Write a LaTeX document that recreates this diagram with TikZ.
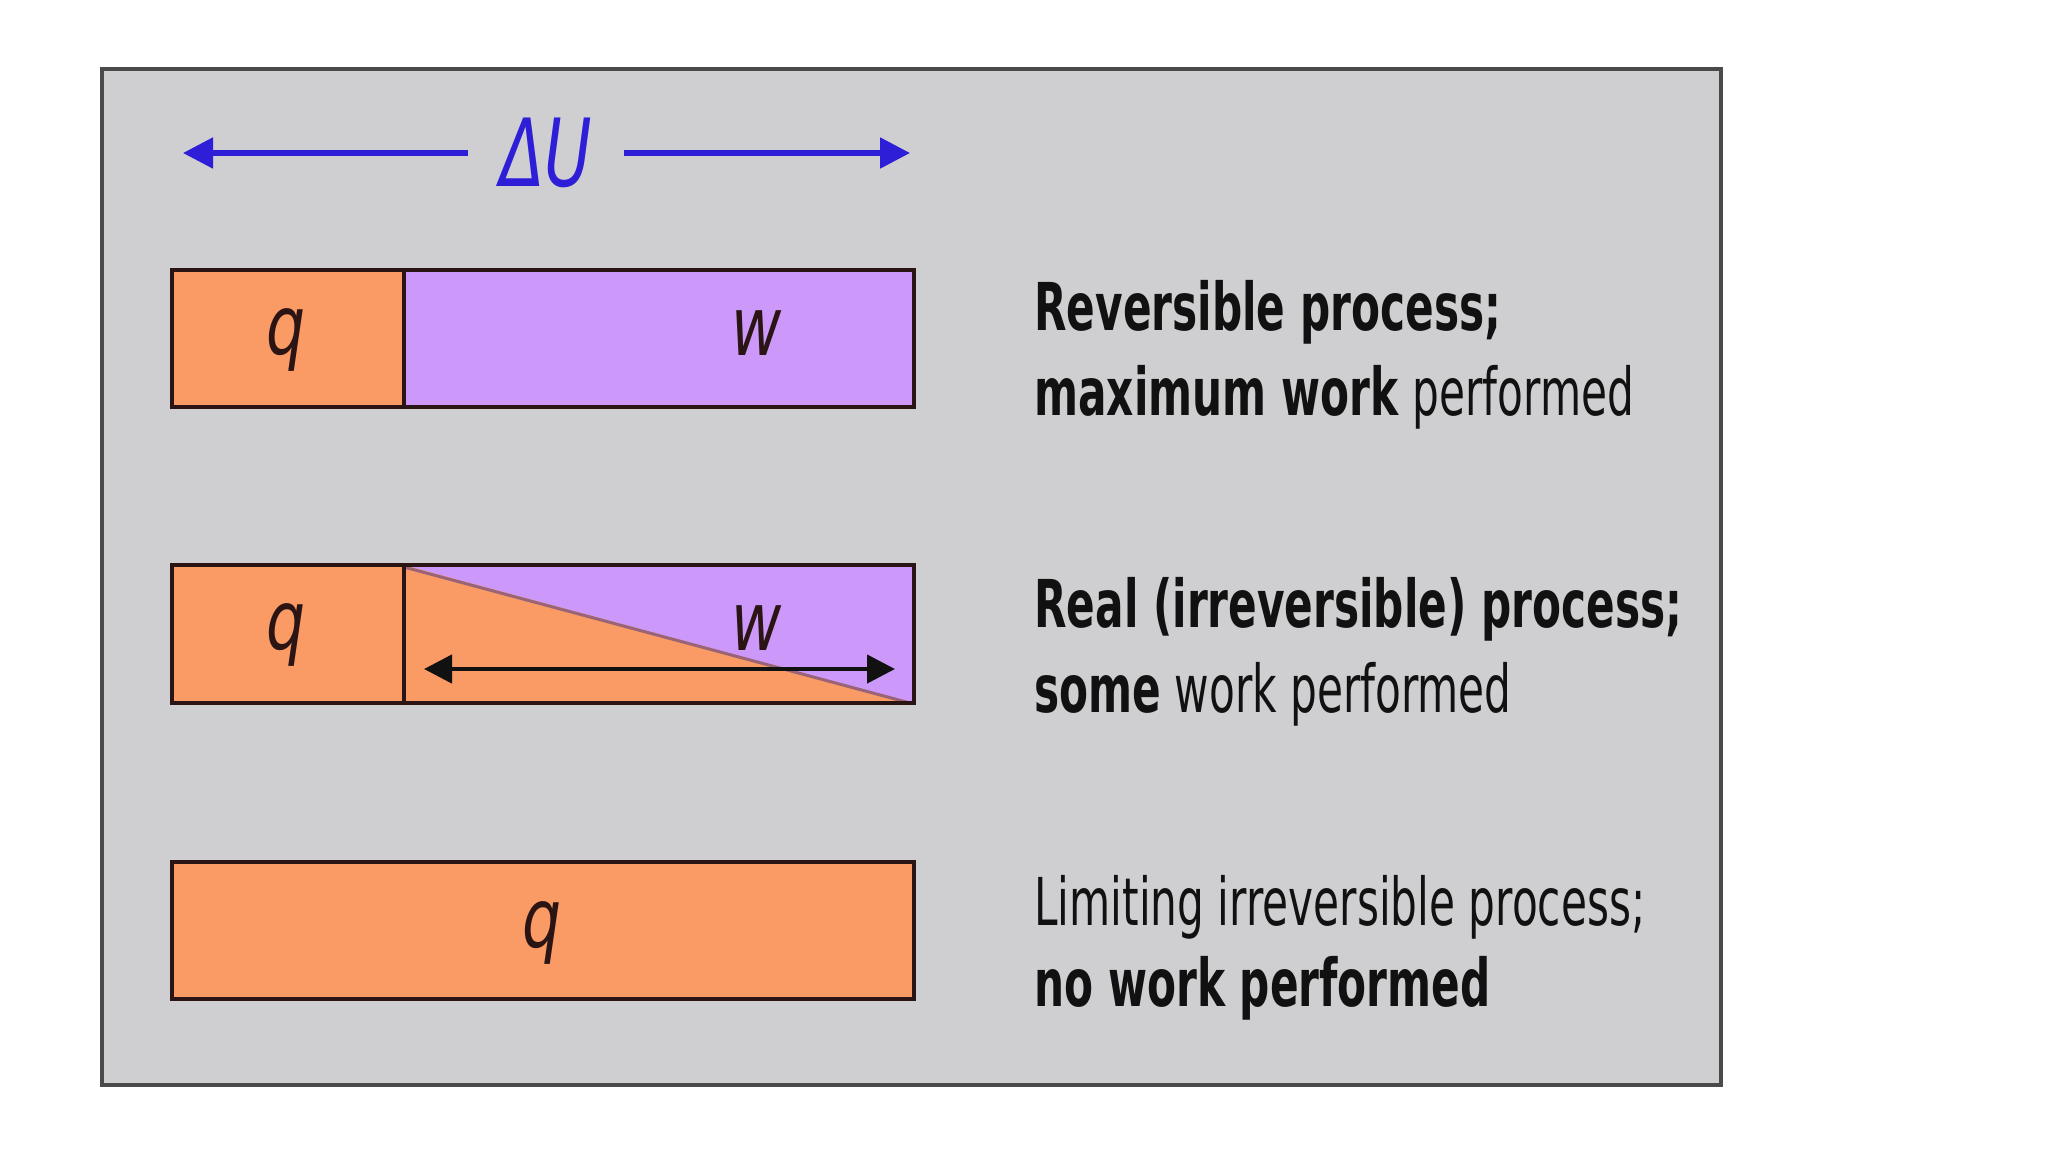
\documentclass[tikz,border=0pt]{standalone}
\usepackage{graphicx}
\usepackage{fontspec}
\setmainfont{DejaVu Sans}
\usetikzlibrary{arrows.meta}
\definecolor{panel}{HTML}{CFCFD1}
\definecolor{paneledge}{HTML}{4A4A4A}
\definecolor{orng}{HTML}{FA9A64}
\definecolor{purp}{HTML}{CC99FA}
\definecolor{blu}{HTML}{2E1ED8}
\definecolor{edge}{HTML}{2A1414}
\definecolor{diag}{HTML}{9A6478}
\definecolor{ink}{HTML}{111111}
\tikzset{
  panelbox/.style={draw=paneledge, line width=1.8pt, fill=panel},
  barline/.style={draw=edge, line width=2pt},
  barlbl/.style={inner sep=0pt, text=edge, font=\fontsize{41}{44}\selectfont\itshape},
  dulbl/.style={inner sep=0pt, minimum width=78pt, minimum height=30pt, text=blu, font=\fontsize{47}{50}\selectfont\itshape},
  duarrow/.style={draw=blu, line width=2.6pt, -{Triangle[length=15pt,width=15pt]}},
  blkarrow/.style={draw=ink, line width=2.2pt, {Triangle[length=14pt,width=14pt]}-{Triangle[length=14pt,width=14pt]}},
  txt/.style={anchor=base west, inner sep=0pt, text=ink, font=\fontsize{33}{40}\selectfont},
}
\newcommand{\sqz}[1]{\scalebox{0.64}[1]{#1}}
\newcommand{\slq}[1]{\scalebox{0.75}[1]{#1}}
\begin{document}
\begin{tikzpicture}[x=0.5pt,y=-0.5pt]
\useasboundingbox (0,0) rectangle (2048,1152);
\fill[white] (0,0) rectangle (2048,1152);
\draw[panelbox] (102,69) rectangle (1721,1085);

% Delta U
\node[dulbl] (du) at (546,153) {\scalebox{0.69}[1]{ΔU}};
\coordinate (duL) at (183,153);
\coordinate (duR) at (910,153);
\draw[duarrow] (du.west) -- (duL);
\draw[duarrow] (du.east) -- (duR);

% Bar 1
\fill[orng] (172,270) rectangle (404,407);
\fill[purp] (404,270) rectangle (914,407);
\draw[barline] (172,270) rectangle (914,407);
\draw[barline] (404,270) -- (404,407);
\node[barlbl] (q1) at (286,340) {\slq{q}};
\node[barlbl] (w1) at (757,333) {\slq{w}};

% Bar 2
\fill[orng] (172,565) rectangle (914,703);
\fill[purp] (404,565) -- (914,565) -- (914,703) -- cycle;
\draw[draw=diag, line width=1.5pt] (404,567) -- (910,703);
\draw[barline] (172,565) rectangle (914,703);
\draw[barline] (404,565) -- (404,703);
\node[barlbl] (q2) at (286,635) {\slq{q}};
\node[barlbl] (w2) at (757,628) {\slq{w}};
\coordinate (aL) at (424,669);
\coordinate (aR) at (895,669);
\draw[blkarrow] (aL) -- (aR);

% Bar 3
\fill[orng] (172,862) rectangle (914,999);
\draw[barline] (172,862) rectangle (914,999);
\node[barlbl] (q3) at (542,933) {\slq{q}};

% Texts
\node[txt] (t1a) at (1034,330) {\sqz{\textbf{Reversible process;}}};
\node[txt] (t1b) at (1034,415) {\sqz{\textbf{maximum work} performed}};
\node[txt] (t2a) at (1034,627) {\sqz{\textbf{Real (irreversible) process;}}};
\node[txt] (t2b) at (1034,712) {\sqz{\textbf{some} work performed}};
\node[txt] (t3a) at (1034,925) {\sqz{Limiting irreversible process;}};
\node[txt] (t3b) at (1034,1006) {\sqz{\textbf{no work performed}}};
\end{tikzpicture}
\end{document}
